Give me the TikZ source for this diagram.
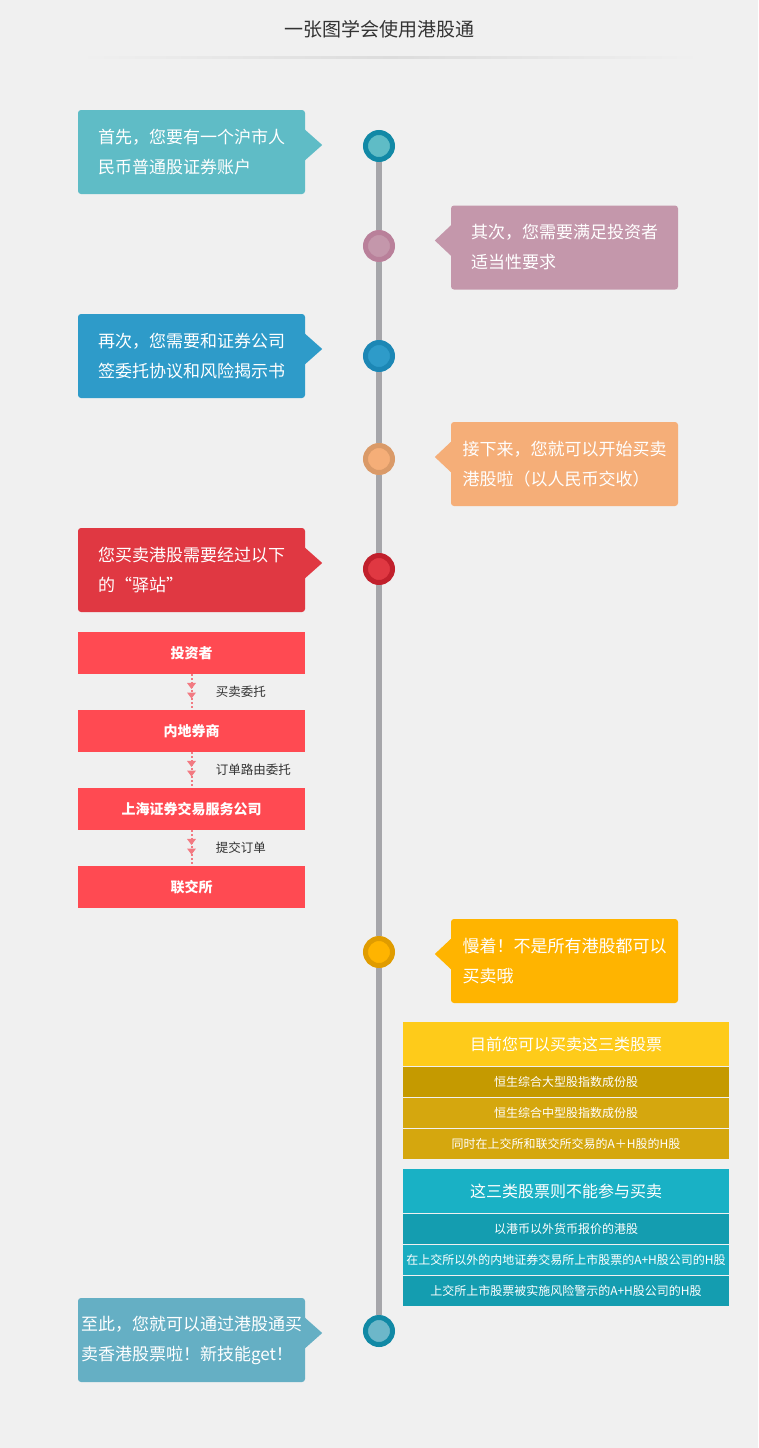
\documentclass[tikz,border=0pt]{standalone}
\usepackage{fontspec}
\setmainfont{Noto Sans CJK SC}
\usetikzlibrary{calc,decorations.markings}

\definecolor{bgcol}{HTML}{F0F0F0}
\definecolor{titlegray}{HTML}{333333}
\definecolor{rulegray}{HTML}{DCDCDC}
\definecolor{linegray}{HTML}{A6A6AA}
\definecolor{tealbox}{HTML}{5FBCC6}
\definecolor{tealring}{HTML}{1289A6}
\definecolor{pinkbox}{HTML}{C497AB}
\definecolor{pinkring}{HTML}{B9809A}
\definecolor{bluebox}{HTML}{2E9BC9}
\definecolor{bluering}{HTML}{1C87B5}
\definecolor{orangebox}{HTML}{F5AE78}
\definecolor{orangering}{HTML}{DA9A68}
\definecolor{redbox}{HTML}{E03842}
\definecolor{redring}{HTML}{C1202C}
\definecolor{flowred}{HTML}{FF4A52}
\definecolor{flowpink}{HTML}{F27A82}
\definecolor{yellowbox}{HTML}{FFB400}
\definecolor{yellowring}{HTML}{E09C00}
\definecolor{endbox}{HTML}{65AFC4}
\definecolor{endring}{HTML}{1189A5}
\definecolor{enddot}{HTML}{6DB7C9}
\definecolor{buyheadcol}{HTML}{FECB1A}
\definecolor{buydark}{HTML}{C59A00}
\definecolor{buylight}{HTML}{D5A70E}
\definecolor{sellheadcol}{HTML}{19B1C5}
\definecolor{selldark}{HTML}{149DB0}
\definecolor{selllight}{HTML}{19ACC0}

\tikzset{
	callout/.style={rounded corners=3pt, minimum width=227pt, minimum height=84pt,
		inner xsep=2pt, align=left, text=white, font=\fontsize{17}{30}\selectfont},
	tldot/.style={circle, line width=5pt, minimum size=27pt, inner sep=0pt},
	timeline/.style={draw=linegray, line width=6pt},
	flowbox/.style={fill=flowred, minimum width=227pt, minimum height=42pt,
		text=white, font=\fontsize{14}{16}\selectfont\bfseries},
	flowlabel/.style={anchor=west, xshift=20pt, text=titlegray, font=\fontsize{12.5}{14}\selectfont},
	flowlink/.style={draw=flowpink, line width=2pt, dash pattern=on 2pt off 2pt,
		postaction={decorate}, decoration={markings,
			mark=at position 0.33 with {\fill[flowpink] (-3,-4.5) -- (-3,4.5) -- (3,0) -- cycle;},
			mark=at position 0.60 with {\fill[flowpink] (-3,-4.5) -- (-3,4.5) -- (3,0) -- cycle;}}},
	tablehead/.style={minimum width=326pt, minimum height=44pt, inner sep=0pt,
		text=white, font=\fontsize{16}{18}\selectfont},
	tablerow/.style={minimum width=326pt, minimum height=30pt, inner sep=0pt,
		text=white, font=\fontsize{12}{14}\selectfont},
}

\begin{document}
\begin{tikzpicture}[x=1pt, y=-1pt]
	
	% Page background
	\fill[bgcol] (0,0) rectangle (758,1448);
	\useasboundingbox (0,0) rectangle (758,1448);
	
	% Title and the faded rule below it
	\node (title) [text=titlegray, font=\fontsize{19}{22}\selectfont] at (379,29) {一张图学会使用港股通};
	\shade[left color=bgcol, right color=bgcol, middle color=rulegray] (80,56.5) rectangle (700,58);
	
	% Dots on the time line
	\foreach \n/\y/\o/\i in {1/146/tealring/tealbox, 2/246/pinkring/pinkbox, 3/356/bluering/bluebox,
		4/459/orangering/orangebox, 5/569/redring/redbox, 6/952/yellowring/yellowbox, 7/1331/endring/enddot} {
		\node (dot\n) [tldot, draw=\o, fill=\i] at (379,\y) {};
	}
	\foreach \a/\b in {1/2, 2/3, 3/4, 4/5, 5/6, 6/7} {
		\draw[timeline] (dot\a) -- (dot\b);
	}
	
	% Callout boxes
	\node (box1) [callout, fill=tealbox] at (191.5,152) {首先，您要有一个沪市人\\民币普通股证券账户};
	\node (box2) [callout, fill=pinkbox] at (564.5,247.5) {其次，您需要满足投资者\\适当性要求};
	\node (box3) [callout, fill=bluebox] at (191.5,356) {再次，您需要和证券公司\\签委托协议和风险揭示书};
	\node (box4) [callout, fill=orangebox] at (564.5,464) {接下来，您就可以开始买卖\\港股啦（以人民币交收）};
	\node (box5) [callout, fill=redbox] at (191.5,570) {您买卖港股需要经过以下\\的“驿站”};
	\node (box7) [callout, fill=yellowbox] at (564.5,961) {慢着！不是所有港股都可以\\买卖哦};
	\node (box9) [callout, fill=endbox] at (191.5,1340) {至此，您就可以通过港股通买\\卖香港股票啦！新技能get！};
	
	% Pointers of the callouts
	\foreach \b/\c in {box1/tealbox, box3/bluebox, box5/redbox, box9/endbox} {
		\fill[\c] ($(\b.east)+(-1,-23)$) -- ++(18,16) -- ++(-18,16) -- cycle;
	}
	\foreach \b/\c in {box2/pinkbox, box4/orangebox, box7/yellowbox} {
		\fill[\c] ($(\b.west)+(1,-23)$) -- ++(-17,16) -- ++(17,16) -- cycle;
	}
	
	% The stations an order passes
	\node (flow1) [flowbox] at (191.5,653) {投资者};
	\node (flow2) [flowbox] at (191.5,731) {内地券商};
	\node (flow3) [flowbox] at (191.5,809) {上海证券交易服务公司};
	\node (flow4) [flowbox] at (191.5,887) {联交所};
	\draw[flowlink] (flow1) -- node (lab1) [flowlabel] {买卖委托} (flow2);
	\draw[flowlink] (flow2) -- node (lab2) [flowlabel] {订单路由委托} (flow3);
	\draw[flowlink] (flow3) -- node (lab3) [flowlabel] {提交订单} (flow4);
	
	% Stocks that can be traded
	\node (buyhead) [tablehead, fill=buyheadcol] at (566,1044) {目前您可以买卖这三类股票};
	\foreach \i/\c/\t in {1/buydark/恒生综合大型股指数成份股, 2/buylight/恒生综合中型股指数成份股,
		3/buylight/同时在上交所和联交所交易的A＋H股的H股} {
		\node (buy\i) [tablerow, fill=\c] at (566,1051+31*\i) {\t};
	}
	
	% Stocks that cannot be traded
	\node (sellhead) [tablehead, fill=sellheadcol] at (566,1191) {这三类股票则不能参与买卖};
	\foreach \i/\c/\t in {1/selldark/以港币以外货币报价的港股, 2/selllight/在上交所以外的内地证券交易所上市股票的A+H股公司的H股,
		3/selldark/上交所上市股票被实施风险警示的A+H股公司的H股} {
		\node (sell\i) [tablerow, fill=\c] at (566,1198+31*\i) {\t};
	}
	
\end{tikzpicture}
\end{document}
